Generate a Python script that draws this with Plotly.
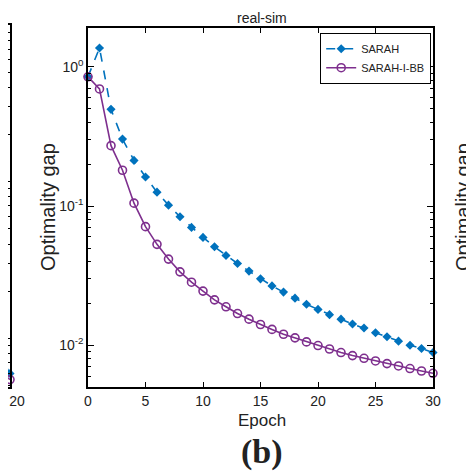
import plotly.graph_objects as go

# main panel (b): real-sim
epochs = list(range(31))
sarah = [0.85, 1.37, 0.496, 0.303, 0.213, 0.162, 0.126, 0.1016, 0.0838, 0.0703,
         0.0596, 0.0510, 0.0442, 0.0387, 0.0341, 0.0300, 0.0267, 0.0241, 0.0218,
         0.0197, 0.0181, 0.0166, 0.0154, 0.0142, 0.0133, 0.0123, 0.0115, 0.0107,
         0.0100, 0.00947, 0.00886]
sarah_ibb = [0.85, 0.695, 0.272, 0.181, 0.105, 0.0712, 0.0531, 0.0416, 0.0337,
             0.0284, 0.0245, 0.0212, 0.0189, 0.0169, 0.0154, 0.0141, 0.0130,
             0.0120, 0.0113, 0.01057, 0.00995, 0.0094, 0.00886, 0.00843, 0.00806,
             0.00771, 0.00738, 0.0071, 0.0068, 0.00653, 0.00629]

# tail of the neighbouring panel (a), only its last epoch is in view
left_epochs = [19, 20]
left_sarah = [0.0085, 0.00597]
left_sarah_ibb = [0.0064, 0.00546]

x_ticks = [0, 5, 10, 15, 20, 25, 30]
y_ticks = [0.01, 0.1, 1]
y_ticklabels = ["10<sup>-2</sup>", "10<sup>-1</sup>", "10<sup>0</sup>"]
y_minor = [m * 10 ** e for e in (-3, -2, -1, 0) for m in range(2, 10)]

BLUE = "#0072BD"
PURPLE = "#7E2F8E"
FONT = "Liberation Sans, Arial, sans-serif"

# the page puts the figure 8px in from the top-left corner
OFF = 8
W = H = 474 - OFF
fx = lambda p: (p - OFF) / W
fy = lambda p: 1 - (p - OFF) / H

fig = go.Figure()

fig.add_trace(go.Scatter(
    x=epochs, y=sarah, name="SARAH", mode="lines+markers",
    line=dict(color=BLUE, width=1.6, dash="dash"),
    marker=dict(symbol="diamond", size=7, color=BLUE),
    cliponaxis=False))
fig.add_trace(go.Scatter(
    x=epochs, y=sarah_ibb, name="SARAH-I-BB", mode="lines+markers",
    line=dict(color=PURPLE, width=1.6),
    marker=dict(symbol="circle-open", size=8, color=PURPLE, line=dict(width=1.6)),
    cliponaxis=False))

fig.add_trace(go.Scatter(
    x=left_epochs, y=left_sarah, mode="lines+markers", showlegend=False,
    line=dict(color=BLUE, width=1.6, dash="dash"),
    marker=dict(symbol="diamond", size=7, color=BLUE),
    xaxis="x2", yaxis="y2", cliponaxis=False))
fig.add_trace(go.Scatter(
    x=left_epochs, y=left_sarah_ibb, mode="lines+markers", showlegend=False,
    line=dict(color=PURPLE, width=1.6),
    marker=dict(symbol="circle-open", size=8, color=PURPLE, line=dict(width=1.6)),
    xaxis="x2", yaxis="y2", cliponaxis=False))

axis_common = dict(showline=True, linecolor="black", linewidth=1.5, ticks="inside",
                   tickcolor="black", showgrid=False, zeroline=False,
                   tickfont=dict(family=FONT, size=14, color="#222"), automargin=False)


def label(text, x, y, size, angle=0, family=FONT):
    return dict(text=text, x=fx(x), y=fy(y), xref="paper", yref="paper",
                xanchor="center", yanchor="middle", textangle=angle, showarrow=False,
                font=dict(family=family, size=size, color="#222"))


fig.update_layout(
    width=W, height=H,
    margin=dict(l=0, r=0, t=0, b=0),
    paper_bgcolor="white", plot_bgcolor="white",
    font=dict(family=FONT, color="#222"),
    xaxis=dict(domain=[fx(88), fx(433)], range=[0, 30], tickvals=x_ticks,
               ticklen=5, mirror="ticks", anchor="y", **axis_common),
    yaxis=dict(domain=[fy(387), fy(28)], type="log", range=[-2.30, 0.28],
               tickvals=y_ticks, ticktext=y_ticklabels, ticklen=6, mirror="ticks",
               minor=dict(tickvals=y_minor, ticks="inside", ticklen=3, tickcolor="black"),
               anchor="x", **axis_common),
    xaxis2=dict(domain=[0, fx(10)], range=[19.85, 20], tickvals=[20], ticklen=5,
                mirror=True, anchor="y2", ticklabelshift=7, **axis_common),
    yaxis2=dict(domain=[fy(387), fy(25)], type="log", range=[-2.31, 0.0],
                side="right", tickvals=y_ticks, showticklabels=False, ticklen=6,
                minor=dict(tickvals=y_minor, ticks="inside", ticklen=3, tickcolor="black"),
                anchor="x2", **axis_common),
    legend=dict(x=fx(431), y=fy(33), xref="paper", yref="paper",
                xanchor="right", yanchor="top", bgcolor="white", bordercolor="black",
                borderwidth=1.2, font=dict(family=FONT, size=11, color="#222"),
                tracegroupgap=0, itemwidth=30),
    showlegend=True,
    annotations=[
        label("real-sim", 262, 18, 14),
        label("Epoch", 262, 420, 17),
        label("Optimality gap", 48, 207, 20, angle=-90),
        label("Optimality gap", 463, 207, 20, angle=-90),
        label("<b>(b)</b>", 262, 452, 34,
              family="Liberation Serif, Times New Roman, serif"),
    ],
)

fig.write_html("out.html")
